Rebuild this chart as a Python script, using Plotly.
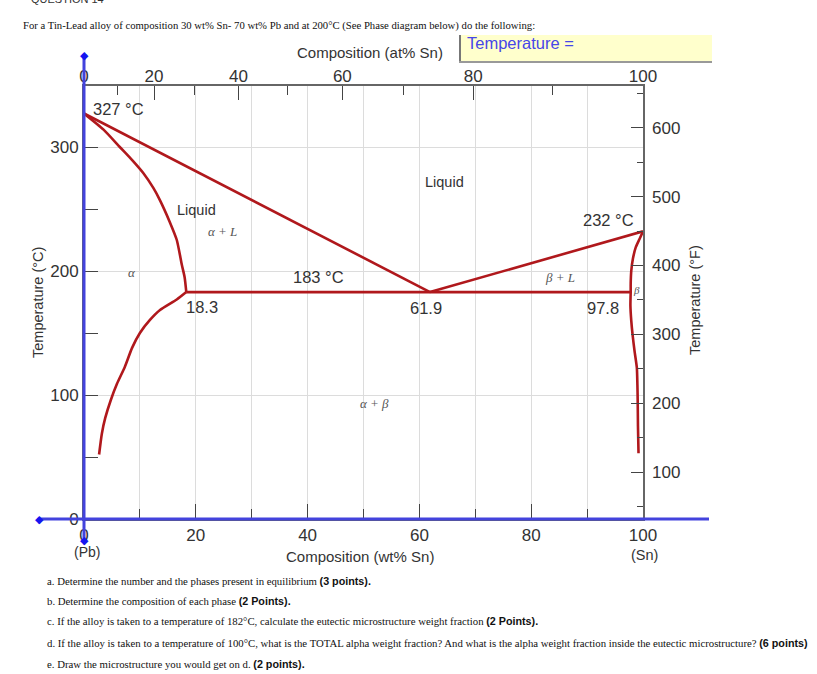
import plotly.graph_objects as go

# ---------------- data (wt% Sn, temperature °C) ----------------
liq_left_wt = [0, 61.9]
liq_left_T = [327, 183]
liq_right_wt = [61.9, 100]
liq_right_T = [183, 232]
sol_left_wt = [0, 3.5, 6.4, 8.7, 10.6, 12.4, 13.6, 15.3, 16.6, 17.5, 18.0, 18.3]
sol_left_T = [327, 314, 300, 289, 279, 267, 257, 240, 225, 205, 195, 183]
solv_left_wt = [18.3, 16.6, 13.6, 11.8, 10.0, 8.6, 7.3, 5.9, 4.8, 3.8, 3.2, 2.7]
solv_left_T = [183, 177, 168.5, 160.5, 150, 138, 122.6, 109, 96, 81.5, 69, 52]
eut_wt = [18.3, 97.8]
eut_T = [183, 183]
sol_right_wt = [100, 99.4, 98.7, 98.2, 97.9, 97.8, 97.8]
sol_right_T = [232, 226, 219, 210, 200, 190, 183]
solv_right_wt = [97.8, 97.75, 97.9, 98.15, 98.5, 98.9, 99.0, 99.05, 99.1, 99.2]
solv_right_T = [183, 172, 160, 148, 135, 122, 108, 96, 75, 53]

wt_ticks = [0, 20, 40, 60, 80, 100]
wt_labels = ["0", "20", "40", "60", "80", "100"]
at_ticks = [0, 20, 40, 60, 80, 100]
at_labels = ["0", "20", "40", "60", "80", "100"]
at_minor = [10, 30, 50, 70, 90]
c_ticks = [0, 100, 200, 300]
c_labels = ["0", "100", "200", "300"]
f_ticks = [100, 200, 300, 400, 500, 600]
f_labels = ["100", "200", "300", "400", "500", "600"]

M_SN, M_PB = 118.71, 207.2


def at_to_wt(a):
    return 100.0 * a * M_SN / (a * M_SN + (100 - a) * M_PB)


# ---------------- geometry ----------------
W, H = 817, 674
L, R, T, B = 84, 643, 86, 519
PX_PER_C = 1.24
T_MAX = (B - T) / PX_PER_C

SANS = "Liberation Sans, Arial, sans-serif"
SERIF = "Liberation Serif, Times New Roman, serif"
RED = "#b0181c"
BLUE = "#4343dd"
TXT = "#333333"


def px(x):
    return (x - L) / (R - L)


def py(y):
    return (B - y) / (B - T)


fig = go.Figure()

curves = [
    (liq_left_wt, liq_left_T), (liq_right_wt, liq_right_T),
    (sol_left_wt, sol_left_T), (solv_left_wt, solv_left_T),
    (eut_wt, eut_T), (sol_right_wt, sol_right_T), (solv_right_wt, solv_right_T),
]
for xs, ys in curves:
    fig.add_trace(go.Scatter(x=xs, y=ys, mode="lines",
                             line=dict(color=RED, width=2.6, shape="spline", smoothing=0.6),
                             hoverinfo="skip", showlegend=False))

# empty trace so the secondary (at% / °F) axes are drawn
fig.add_trace(go.Scatter(x=[None], y=[None], xaxis="x2", yaxis="y2", mode="lines",
                         hoverinfo="skip", showlegend=False))

anns = []


def ann(text, x, y, size, color=TXT, family=SANS, xanchor="center", yanchor="middle",
        angle=0, ref="px"):
    if ref == "px":
        d = dict(xref="paper", yref="paper", x=px(x), y=py(y))
    else:
        d = dict(xref="x", yref="y", x=x, y=y)
    d.update(text=text, showarrow=False, xanchor=xanchor, yanchor=yanchor, textangle=angle,
             font=dict(size=size, color=color, family=family), borderpad=0)
    anns.append(d)


# labels in the diagram (data coordinates)
ann("327 °C", 1.4, 331, 16.5, xanchor="left", ref="data")
ann("Liquid", 20.2, 249.5, 14.5, ref="data")
ann("<i>α + L</i>", 24.7, 231.5, 13, color="#555", family=SERIF, ref="data")
ann("<i>α</i>", 8.6, 198.5, 13, color="#555", family=SERIF, ref="data")
ann("18.3", 21.1, 171, 16.5, ref="data")
ann("183 °C", 41.9, 195.5, 16.5, ref="data")
ann("61.9", 61.2, 170.5, 16.5, ref="data")
ann("Liquid", 64.4, 271.8, 14.5, ref="data")
ann("<i>α + β</i>", 51.9, 93.5, 13, color="#555", family=SERIF, ref="data")
ann("<i>β + L</i>", 85.1, 195, 13, color="#555", family=SERIF, ref="data")
ann("<i>β</i>", 98.9, 184.5, 11, color="#555", family=SERIF, ref="data")
ann("232 °C", 93.9, 241, 16.5, ref="data")
ann("97.8", 92.9, 170, 16.5, ref="data")

# axis titles and side texts (pixel positions)
ann("Composition (at% Sn)", 370, 52, 15)
ann("Composition (wt% Sn)", 360, 556, 15)
ann("(Pb)", 87, 552, 14)
ann("(Sn)", 644, 555, 14.5)
ann("Temperature (°C)", 38, 303, 14.5, angle=-90)
ann("Temperature (°F)", 695, 300, 14.5, angle=-90)

# page text
ann("QUESTION 14", 30, -1, 11, family=SANS, xanchor="left")
ann("For a Tin-Lead alloy of composition 30 wt% Sn- 70 wt% Pb and at 200°C (See Phase diagram below) do the following:",
    22, 25, 10.7, color="#111", family=SERIF, xanchor="left")
ann("Temperature =", 466, 43, 16.5, color="#4646e8", xanchor="left")

BOLD = '<span style="font-family:Liberation Sans, Arial, sans-serif;font-weight:bold">'
questions = [
    ("a. Determine the number and the phases present in equilibrium ", "(3 points)."),
    ("b. Determine the composition of each phase ", "(2 Points)."),
    ("c. If the alloy is taken to a temperature of 182°C, calculate the eutectic microstructure weight fraction ", "(2 Points)."),
    ("d. If the alloy is taken to a temperature of 100°C, what is the TOTAL alpha weight fraction? And what is the alpha weight fraction inside the eutectic microstructure? ", "(6 points)"),
    ("e. Draw the microstructure you would get on d. ", "(2 points)."),
]
q_y = [581, 601, 621, 643, 664]
for (plain, bold), yy in zip(questions, q_y):
    ann(plain + BOLD + bold + "</span>", 46, yy, 10.75, color="#111", family=SERIF, xanchor="left")

# diamonds on the blue axes
for (dx, dy) in [(84, 55), (84, 540), (39, 519)]:
    ann("◆", dx, dy, 11, color="#1515f0")

shapes = [
    # yellow input box
    dict(type="rect", xref="paper", yref="paper", x0=px(459), x1=px(712), y0=py(62), y1=py(35),
         fillcolor="#ffffcc", line=dict(width=0), layer="below"),
    dict(type="line", xref="paper", yref="paper", x0=px(460), x1=px(460), y0=py(63), y1=py(35),
         line=dict(color="#777", width=2)),
    dict(type="line", xref="paper", yref="paper", x0=px(459), x1=px(712), y0=py(62), y1=py(62),
         line=dict(color="#999", width=2)),
    # blue axes lines
    dict(type="line", xref="paper", yref="paper", x0=0, x1=0, y0=py(540), y1=py(55),
         line=dict(color=BLUE, width=3), layer="above"),
    dict(type="line", xref="paper", yref="paper", x0=px(39), x1=px(709), y0=0, y1=0,
         line=dict(color=BLUE, width=3), layer="above"),
]

tickfont = dict(size=17, color=TXT, family=SANS)
TC = "#444"

fig.update_layout(
    width=W, height=H,
    margin=dict(l=L, r=W - R, t=T, b=H - B, pad=0),
    paper_bgcolor="white", plot_bgcolor="white",
    showlegend=False,
    annotations=anns, shapes=shapes,
    xaxis=dict(range=[0, 100], tickmode="array", tickvals=wt_ticks, ticktext=wt_labels,
               ticks="inside", ticklen=15, tickwidth=1.3, tickcolor=TC,
               showgrid=True, gridcolor="#dcdcdc", gridwidth=1,
               minor=dict(dtick=10, tick0=0, ticks="inside", ticklen=10, tickwidth=1.3,
                          tickcolor=TC, showgrid=True, gridcolor="#dcdcdc"),
               showline=True, linecolor="#666", linewidth=2, mirror=True,
               zeroline=False, tickfont=tickfont, fixedrange=True),
    xaxis2=dict(range=[0, 100], overlaying="x", side="top", anchor="y",
                tickmode="array", tickvals=[at_to_wt(a) for a in at_ticks], ticktext=at_labels,
                ticks="inside", ticklen=14, tickwidth=1.3, tickcolor=TC,
                minor=dict(tickmode="array", tickvals=[at_to_wt(a) for a in at_minor],
                           ticks="inside", ticklen=9, tickwidth=1.3, tickcolor=TC),
                showgrid=False, zeroline=False, showline=False, tickfont=tickfont,
                fixedrange=True),
    yaxis=dict(range=[0, T_MAX], tickmode="array", tickvals=c_ticks, ticktext=c_labels,
               ticks="inside", ticklen=14, tickwidth=1.3, tickcolor=TC,
               showgrid=True, gridcolor="#dcdcdc", gridwidth=1,
               minor=dict(dtick=50, tick0=0, ticks="inside", ticklen=14, tickwidth=1.3,
                          tickcolor=TC, showgrid=False),
               showline=True, linecolor="#666", linewidth=2, mirror=True,
               zeroline=False, tickfont=tickfont, fixedrange=True),
    yaxis2=dict(range=[32, 32 + T_MAX * 1.8], overlaying="y", side="right", anchor="x",
                tickmode="array", tickvals=f_ticks, ticktext=f_labels,
                ticks="inside", ticklen=12, tickwidth=1.3, tickcolor=TC,
                minor=dict(dtick=50, tick0=0, ticks="inside", ticklen=6, tickwidth=1.3,
                           tickcolor=TC),
                showgrid=False, zeroline=False, showline=False, tickfont=tickfont,
                ticklabelstandoff=8, fixedrange=True),
)

fig.write_html("out.html")
